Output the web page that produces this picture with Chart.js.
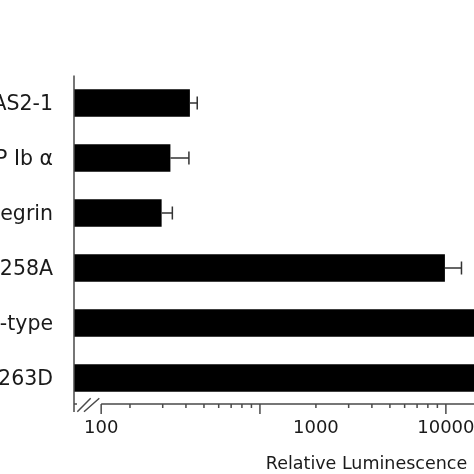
<!DOCTYPE html>
<html>
<head>
<meta charset="utf-8">
<script src="https://cdn.jsdelivr.net/npm/chart.js@4"></script>
<style>
  html, body { margin: 0; padding: 0; background: #fff; overflow: hidden; width: 474px; height: 474px; }
  #wrap { position: absolute; left: -60px; top: 0; width: 740px; height: 474px; }
</style>
</head>
<body>
<div id="wrap"><canvas id="myChart" width="740" height="474"></canvas></div>
<script>
// data (x axis is log)
var categories = ['MAS2-1', 'GP Ib \u03b1', 'Integrin', 'R258A', 'Wild-type', 'G263D'];
var values = [420, 330, 296, 9880, 42000, 38000];
var errors = [40, 85, 42, 2250, 6000, 5000];

// axis ticks as they appear (the "100" sits just after the axis break)
var tickValues = [140, 200, 300, 400, 500, 600, 700, 800, 900, 1000,
  2000, 3000, 4000, 5000, 6000, 7000, 8000, 9000, 10000,
  20000, 30000, 40000, 50000, 60000, 70000, 80000, 90000, 100000];
var majorTicks = [140, 1000, 10000, 100000];
var labelValues = [140, 2000, 10000];
var labelTexts = ['100', '1000', '10000'];

var lineColor = '#4a4a4a';
var textColor = '#1a1a1a';

var axisPlugin = {
  id: 'axisPlugin',
  afterDatasetsDraw: function(chart) {
    var ctx = chart.ctx;
    var xs = chart.scales.x;
    var ys = chart.scales.y;
    ctx.save();
    ctx.strokeStyle = '#333';
    ctx.lineWidth = 1.5;
    // error bars
    values.forEach(function(v, i) {
      var y = ys.getPixelForValue(i);
      var x1 = xs.getPixelForValue(v);
      var x2 = xs.getPixelForValue(v + errors[i]);
      ctx.beginPath();
      ctx.moveTo(x1, y);
      ctx.lineTo(x2, y);
      ctx.moveTo(x2, y - 6.5);
      ctx.lineTo(x2, y + 6.5);
      ctx.stroke();
    });
    ctx.restore();
  },
  afterDraw: function(chart) {
    var ctx = chart.ctx;
    var area = chart.chartArea;
    var xs = chart.scales.x;
    var axisY = area.bottom - 1.5;
    ctx.save();
    ctx.strokeStyle = lineColor;
    ctx.lineWidth = 1.5;
    ctx.beginPath();
    // y axis
    ctx.moveTo(area.left, area.top);
    ctx.lineTo(area.left, axisY + 8);
    // stub before the break
    ctx.moveTo(area.left, axisY);
    ctx.lineTo(area.left + 3, axisY);
    // x axis after the break
    var x0 = xs.getPixelForValue(tickValues[0]);
    ctx.moveTo(x0, axisY);
    ctx.lineTo(area.right, axisY);
    // tick marks
    tickValues.forEach(function(v) {
      var px = xs.getPixelForValue(v);
      var len = majorTicks.indexOf(v) >= 0 ? 10 : 4;
      ctx.moveTo(px, axisY);
      ctx.lineTo(px, axisY + len);
    });
    // break marks //
    ctx.moveTo(area.left + 3.3, axisY + 7.7);
    ctx.lineTo(area.left + 16.7, axisY - 5.7);
    ctx.moveTo(area.left + 10, axisY + 7.7);
    ctx.lineTo(area.left + 25.3, axisY - 5.7);
    ctx.stroke();
    ctx.restore();
  }
};

var ctx = document.getElementById('myChart');
var myChart = new Chart(ctx, {
  type: 'bar',
  data: {
    labels: categories,
    datasets: [{
      data: values,
      backgroundColor: '#000',
      borderWidth: 0,
      barPercentage: 0.5,
      categoryPercentage: 1
    }]
  },
  options: {
    indexAxis: 'y',
    responsive: false,
    animation: false,
    devicePixelRatio: 1,
    layout: { padding: { top: 75.5, right: 21, bottom: 0, left: 0 } },
    plugins: {
      legend: { display: false },
      tooltip: { enabled: false }
    },
    scales: {
      x: {
        type: 'logarithmic',
        min: 100,
        max: 140000,
        grid: { display: false, drawTicks: false },
        border: { display: false },
        afterBuildTicks: function(scale) {
          scale.ticks = tickValues.map(function(v) { return { value: v }; });
        },
        ticks: {
          autoSkip: false,
          maxRotation: 0,
          padding: 12,
          color: textColor,
          font: { family: 'DejaVu Sans', size: 18 },
          callback: function(value) {
            var i = labelValues.indexOf(value);
            return i >= 0 ? labelTexts[i] : '';
          }
        },
        title: {
          display: true,
          text: 'Relative Luminescence',
          color: textColor,
          font: { family: 'DejaVu Sans', size: 17.5, lineHeight: 1 },
          padding: { top: 0, bottom: 1 }
        },
        afterFit: function(scale) { scale.height = 68.5; }
      },
      y: {
        grid: { display: false, drawTicks: false },
        border: { display: false },
        ticks: {
          padding: 21,
          labelOffset: 2,
          color: textColor,
          font: { family: 'DejaVu Sans', size: 20.5 }
        },
        afterFit: function(scale) { scale.width = 134; }
      }
    }
  },
  plugins: [axisPlugin]
});
</script>
</body>
</html>
